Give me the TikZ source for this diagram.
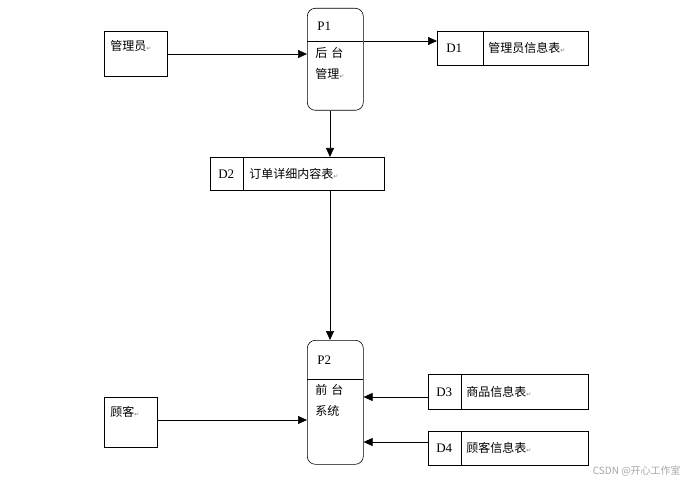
\documentclass[tikz,border=0pt]{standalone}
\usepackage{fontspec}
\setmainfont{Liberation Serif}
\newfontfamily\cjk{Noto Sans CJK SC}
\newfontfamily\dvs{DejaVu Sans}
\usetikzlibrary{arrows.meta}
\newcommand{\rt}{{\dvs\fontsize{6}{6}\selectfont\color{gray}↵}}
\begin{document}
\begin{tikzpicture}[x=1pt,y=-1pt,
  line width=0.6pt,
  lbl/.style={anchor=west,font=\cjk\fontsize{12}{14}\selectfont,inner sep=0pt},
  num/.style={anchor=west,font=\fontsize{13}{15}\selectfont,inner sep=0pt},
  arr/.style={-{Triangle[length=9pt,width=8pt]}},
  proc/.style={draw,rounded corners=8pt,anchor=north west,inner sep=0pt}]
\useasboundingbox (0,0) rectangle (687,486);
% external entities
\node[draw,anchor=north west,minimum width=63pt,minimum height=45pt,inner sep=0pt] (admin) at (104,31) {};
\node[lbl] (admint) at (110,46) {管理员\rt};
\node[draw,anchor=north west,minimum width=53pt,minimum height=50pt,inner sep=0pt] (cust) at (104,397) {};
\node[lbl] (custt) at (110,412) {顾客\rt};
% processes
\node[proc,minimum width=56pt,minimum height=102pt] (p1) at (307,8) {};
\draw (307,41) -- (363,41);
\node[num] (p1n) at (317,26) {P1};
\node[lbl] (p1a) at (315,53) {后\,\,台};
\node[lbl] (p1b) at (315,74) {管理\rt};
\node[proc,minimum width=56pt,minimum height=124pt] (p2) at (307,340) {};
\draw (307,379) -- (363,379);
\node[num] (p2n) at (317,360) {P2};
\node[lbl] (p2a) at (315,390) {前\,\,台};
\node[lbl] (p2b) at (315,411) {系统};
% data stores
\node[draw,anchor=north west,minimum width=151pt,minimum height=34pt,inner sep=0pt] (d1) at (437,31) {};
\draw (483,31) -- (483,65);
\node[num] at (446,48) {D1};
\node[lbl] at (488,48) {管理员信息表\rt};
\node[draw,anchor=north west,minimum width=174pt,minimum height=33pt,inner sep=0pt] (d2) at (210,157) {};
\draw (243,157) -- (243,190);
\node[num] at (218,174) {D2};
\node[lbl] at (249,174) {订单详细内容表\rt};
\node[draw,anchor=north west,minimum width=160pt,minimum height=35pt,inner sep=0pt] (d3) at (428,374) {};
\draw (461,374) -- (461,409);
\node[num] at (436,392) {D3};
\node[lbl] at (466,392) {商品信息表\rt};
\node[draw,anchor=north west,minimum width=160pt,minimum height=34pt,inner sep=0pt] (d4) at (428,431) {};
\draw (461,431) -- (461,465);
\node[num] at (436,448) {D4};
\node[lbl] at (466,448) {顾客信息表\rt};
% flows
\draw[arr] (admin.east |- 0,54) -- (p1.west |- 0,54);
\draw[arr] (p1.east |- 0,41) -- (d1.west |- 0,41);
\draw[arr] (330,0 |- p1.south) -- (330,0 |- d2.north);
\draw[arr] (330,0 |- d2.south) -- (330,0 |- p2.north);
\draw[arr] (cust.east |- 0,420) -- (p2.west |- 0,420);
\draw[arr] (d3.west |- 0,397) -- (p2.east |- 0,397);
\draw[arr] (d4.west |- 0,442) -- (p2.east |- 0,442);
\node[anchor=east,font=\cjk\fontsize{10}{11}\selectfont,text=gray!70,inner sep=0pt] (wm) at (681,471) {CSDN @开心工作室};
\end{tikzpicture}
\end{document}
